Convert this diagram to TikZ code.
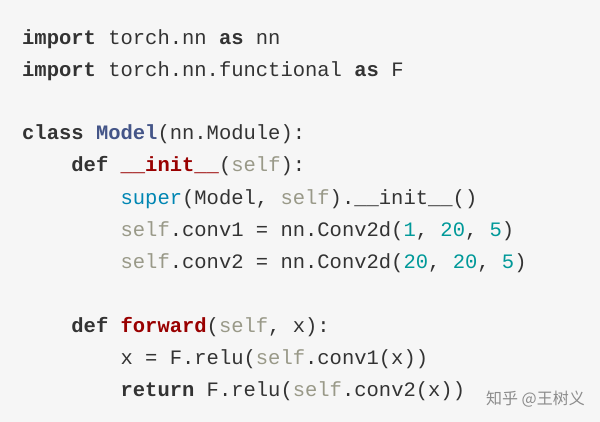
\documentclass[tikz,border=0pt]{standalone}
\usepackage{fontspec}
\setmonofont{Liberation Mono}
\newfontfamily\cjk{Noto Sans CJK SC}
\definecolor{bgc}{HTML}{F6F6F6}
\definecolor{selfc}{HTML}{999988}
\definecolor{numc}{HTML}{009999}
\definecolor{clsc}{HTML}{445588}
\definecolor{fnc}{HTML}{990000}
\definecolor{bic}{HTML}{0086B3}
\definecolor{txtc}{HTML}{333333}
\newcommand{\kwx}[1]{\textbf{#1}}
\newcommand{\slf}{\textcolor{selfc}{self}}
\newcommand{\nmx}[1]{\textcolor{numc}{#1}}
\begin{document}
\begin{tikzpicture}[x=1pt,y=-1pt,
  code/.style={anchor=base west,inner sep=0pt,font=\ttfamily\fontsize{20.5}{24}\selectfont,text=txtc}]
\fill[bgc] (0,0) rectangle (600,422);
\useasboundingbox (0,0) rectangle (600,422);
\node[code] (l1) at (22,45) {\kwx{import} torch.nn \kwx{as} nn};
\node[code] (l2) at (22,77) {\kwx{import} torch.nn.functional \kwx{as} F};
\node[code] (l3) at (22,140) {\kwx{class} \textcolor{clsc}{\textbf{Model}}(nn.Module):};
\node[code] (l4) at (22,172) {\phantom{xxxx}\kwx{def} \textcolor{fnc}{\textbf{\_\_init\_\_}}(\slf):};
\node[code] (l5) at (22,205) {\phantom{xxxxxxxx}\textcolor{bic}{super}(Model, \slf).\_\_init\_\_()};
\node[code] (l6) at (22,237) {\phantom{xxxxxxxx}\slf.conv1 = nn.Conv2d(\nmx{1}, \nmx{20}, \nmx{5})};
\node[code] (l7) at (22,269) {\phantom{xxxxxxxx}\slf.conv2 = nn.Conv2d(\nmx{20}, \nmx{20}, \nmx{5})};
\node[code] (l8) at (22,332) {\phantom{xxxx}\kwx{def} \textcolor{fnc}{\textbf{forward}}(\slf, x):};
\node[code] (l9) at (22,364) {\phantom{xxxxxxxx}x = F.relu(\slf.conv1(x))};
\node[code] (l10) at (22,396) {\phantom{xxxxxxxx}\kwx{return} F.relu(\slf.conv2(x))};
\node[anchor=east,inner sep=0pt,font=\cjk\fontsize{16}{18}\selectfont,text=black!45] (wm) at (585,399) {知乎 @王树义};
\end{tikzpicture}
\end{document}
